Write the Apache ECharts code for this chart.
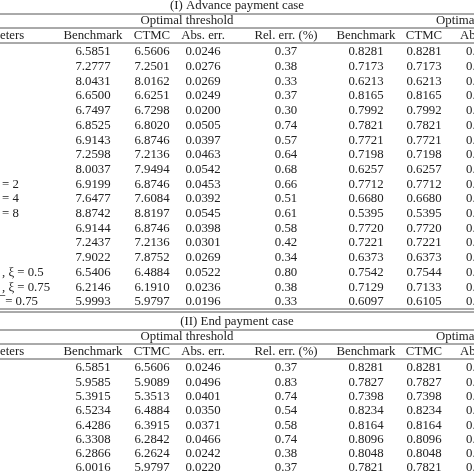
<!DOCTYPE html>
<html><head><meta charset="utf-8">
<script src="https://cdn.jsdelivr.net/npm/echarts@6/dist/echarts.min.js"></script>
<style>html,body{margin:0;background:#fff}#chart{width:474px;height:474px}</style>
</head><body><div id="chart"></div>
<script>
// 表格数据：(I) Advance payment case
var labelsA = ['', '', '', '', '', '', '', '', '', '= 2', '= 4', '= 8', '', '', '', ', \u03be = 0.5', ', \u03be = 0.75', '\u0305 = 0.75'];
var benchA = ['6.5851','7.2777','8.0431','6.6500','6.7497','6.8525','6.9143','7.2598','8.0037','6.9199','7.6477','8.8742','6.9144','7.2437','7.9022','6.5406','6.2146','5.9993'];
var ctmcA = ['6.5606','7.2501','8.0162','6.6251','6.7298','6.8020','6.8746','7.2136','7.9494','6.8746','7.6084','8.8197','6.8746','7.2136','7.8752','6.4884','6.1910','5.9797'];
var absA = ['0.0246','0.0276','0.0269','0.0249','0.0200','0.0505','0.0397','0.0463','0.0542','0.0453','0.0392','0.0545','0.0398','0.0301','0.0269','0.0522','0.0236','0.0196'];
var relA = ['0.37','0.38','0.33','0.37','0.30','0.74','0.57','0.64','0.68','0.66','0.51','0.61','0.58','0.42','0.34','0.80','0.38','0.33'];
var bench2A = ['0.8281','0.7173','0.6213','0.8165','0.7992','0.7821','0.7721','0.7198','0.6257','0.7712','0.6680','0.5395','0.7720','0.7221','0.6373','0.7542','0.7129','0.6097'];
var ctmc2A = ['0.8281','0.7173','0.6213','0.8165','0.7992','0.7821','0.7721','0.7198','0.6257','0.7712','0.6680','0.5395','0.7720','0.7221','0.6373','0.7544','0.7133','0.6105'];
// (II) End payment case
var benchB = ['6.5851','5.9585','5.3915','6.5234','6.4286','6.3308','6.2866','6.0016'];
var ctmcB = ['6.5606','5.9089','5.3513','6.4884','6.3915','6.2842','6.2624','5.9797'];
var absB = ['0.0246','0.0496','0.0401','0.0350','0.0371','0.0466','0.0242','0.0220'];
var relB = ['0.37','0.83','0.74','0.54','0.58','0.74','0.38','0.37'];
var bench2B = ['0.8281','0.7827','0.7398','0.8234','0.8164','0.8096','0.8048','0.7821'];
var ctmc2B = ['0.8281','0.7827','0.7398','0.8234','0.8164','0.8096','0.8048','0.7821'];
var headers = ['Benchmark', 'CTMC', 'Abs. err.', 'Rel. err. (%)', 'Benchmark', 'CTMC', 'Ab'];

var colX = [93, 152, 203, 286, 366, 424, 460];
var font = '12.8px "Liberation Serif", "DejaVu Serif", serif';
var els = [];

function txt(x, y, s, align) {
	els.push({type: 'text', x: x, y: y, style: {text: s, font: font, fill: '#222', align: align || 'center', verticalAlign: 'middle'}});
}
function rule(y, w, x1, x2) {
	els.push({type: 'line', shape: {x1: x1 || 0, y1: y, x2: x2 || 474, y2: y}, style: {stroke: '#555', lineWidth: w || 1}});
}
function section(top, title, rowH, labels, cols) {
	txt(237, top, title);
	rule(top + 8, 1);
	txt(187, top + 15, 'Optimal threshold');
	txt(436, top + 15, 'Optimal', 'left');
	rule(top + 22, 1);
	txt(0, top + 30, 'eters', 'left');
	headers.forEach(function(h, i) { txt(colX[i], top + 30, h, i == 6 ? 'left' : 'center') });
	rule(top + 37, 1);
	cols[0].forEach(function(v, r) {
		var y = top + 46 + r * rowH;
		if (labels && labels[r]) txt(2, y, labels[r], 'left');
		cols.forEach(function(c, i) { txt(colX[i], y, c[r]) });
		if (cols.length == 6) txt(466, y, (Math.abs(cols[5][r] - cols[4][r])).toFixed(4), 'left');
	});
}
section(6, '(I) Advance payment case', 14.7, labelsA, [benchA, ctmcA, absA, relA, bench2A, ctmc2A]);
rule(309, 1);
rule(312, 1);
section(322, '(II) End payment case', 14.3, null, [benchB, ctmcB, absB, relB, bench2B, ctmc2B]);

var myChart = echarts.init(document.getElementById('chart'));
myChart.setOption({animation: false, graphic: {elements: els}});
</script></body></html>
